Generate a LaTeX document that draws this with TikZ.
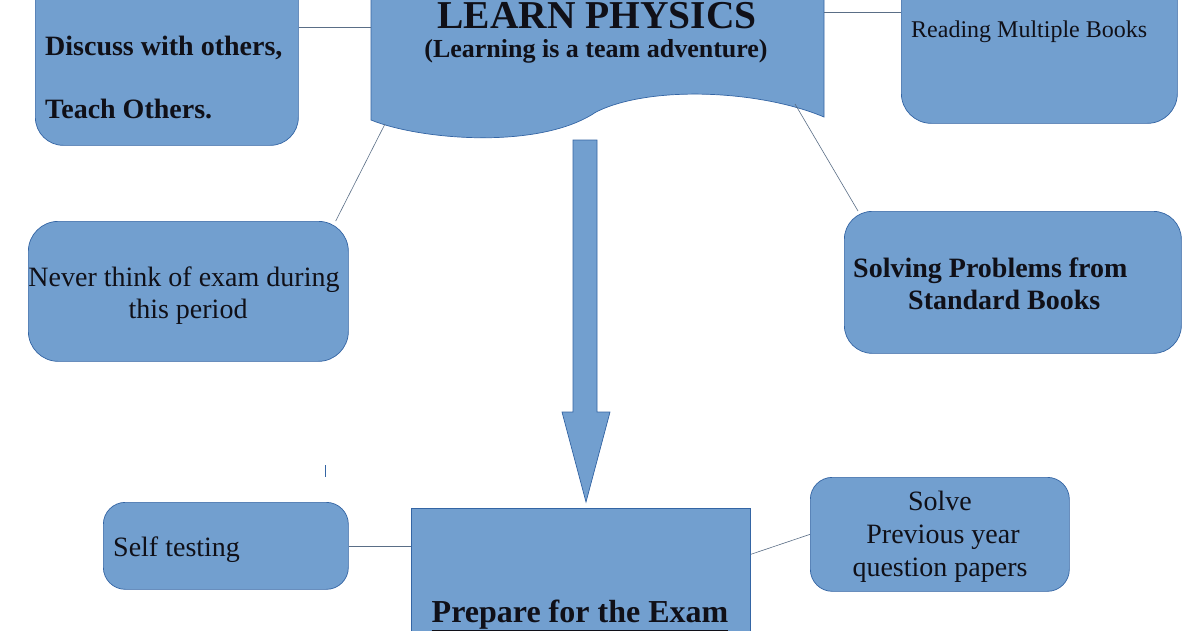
\documentclass[tikz,border=0pt]{standalone}
\usepackage{fontspec}
\setmainfont{Liberation Serif}
\definecolor{boxfill}{HTML}{729FCF}
\definecolor{boxline}{HTML}{3465A4}
\definecolor{linkline}{HTML}{5A6E86}
\definecolor{ink}{HTML}{101018}
\begin{document}
\begin{tikzpicture}[x=1pt, y=-1pt,
    box/.style={draw=boxline, fill=boxfill, line width=0.7pt, inner sep=0pt},
    link/.style={draw=linkline, line width=0.6pt},
    words/.style={text=ink, inner sep=0pt, font=\fontsize{28}{32}\selectfont},
    boldwords/.style={words, font=\fontsize{28}{32}\selectfont\bfseries}]
    \useasboundingbox (0, 0) rectangle (1200, 630) ;
    \clip (0, 0) rectangle (1200, 630) ;
    \fill[white] (0, 0) rectangle (1200, 630) ;
    \node[box, rounded corners=28pt, minimum width=263pt, minimum height=175pt, anchor=north west] (discuss) at (35, -30) {} ;
    \node[box, rounded corners=30pt, minimum width=276pt, minimum height=153pt, anchor=north west] (reading) at (901, -30) {} ;
    \node[box, rounded corners=30pt, minimum width=320pt, minimum height=140pt, anchor=north west] (never) at (28, 221) {} ;
    \node[box, rounded corners=28pt, minimum width=337pt, minimum height=142pt, anchor=north west] (solving) at (844, 211) {} ;
    \node[box, rounded corners=22pt, minimum width=245pt, minimum height=87pt, anchor=north west] (selftest) at (103, 502) {} ;
    \node[box, rounded corners=22pt, minimum width=259pt, minimum height=114pt, anchor=north west] (solve) at (810, 477) {} ;
    \node[box, minimum width=339pt, minimum height=180pt, anchor=north west] (prepare) at (411, 508) {} ;
    \draw[box] (371, -30) -- (371, 120)
        .. controls (420, 140) and (540, 150) .. (596, 112)
        .. controls (650, 85) and (760, 90) .. (824, 117)
        -- (824, -30) -- cycle ;
    \coordinate (docL) at (371, 27) ;
    \coordinate (docR) at (824, 12) ;
    \coordinate (docBL) at (385, 124) ;
    \coordinate (docBR) at (795, 104) ;
    \draw[box] (573, 140) -- (597, 140) -- (597, 412) -- (610, 412)
        -- (586, 502) -- (562, 412) -- (573, 412) -- cycle ;
    \draw[link] (discuss.east |- docL) -- (docL) ;
    \draw[link] (docR) -- (reading.west |- docR) ;
    \draw[link] (docBL) -- ([xshift=-13pt]never.north east) ;
    \draw[link] (docBR) -- ([xshift=14pt]solving.north west) ;
    \draw[link] (selftest.east) -- (selftest.east -| prepare.west) ;
    \draw[link] ([yshift=44pt]prepare.east) -- (solve.west) ;
    \draw[boxline] (325, 465) -- (325, 477) ;
    \node[boldwords, font=\fontsize{39.5}{44}\selectfont\bfseries, anchor=base] (title) at (597, 28) {LEARN PHYSICS} ;
    \node[boldwords, font=\fontsize{26}{30}\selectfont\bfseries, anchor=base] (motto) at (596, 57) {(Learning is a team adventure)} ;
    \node[boldwords, anchor=base west] (discussA) at (45, 55) {Discuss with others,} ;
    \node[boldwords, anchor=base west] (discussB) at (45, 118) {Teach Others.} ;
    \node[words, font=\fontsize{24}{28}\selectfont, anchor=base west] (readingA) at (911, 37) {Reading Multiple Books} ;
    \node[words, anchor=base] (neverA) at (184, 286) {Never think of exam during} ;
    \node[words, anchor=base] (neverB) at (188, 318) {this period} ;
    \node[boldwords, anchor=base west] (solvingA) at (853, 277) {Solving Problems from} ;
    \node[boldwords, anchor=base west] (solvingB) at (908, 309) {Standard Books} ;
    \node[words, anchor=base west] (selftestA) at (113, 556) {Self testing} ;
    \node[words, anchor=base] (solveA) at (940, 510) {Solve} ;
    \node[words, anchor=base] (solveB) at (943, 543) {Previous year} ;
    \node[words, anchor=base] (solveC) at (940, 576) {question papers} ;
    \node[boldwords, font=\fontsize{32}{36}\selectfont\bfseries, anchor=base] (prepareA) at (580, 622) {\underline{Prepare for the Exam}} ;
\end{tikzpicture}
\end{document}
